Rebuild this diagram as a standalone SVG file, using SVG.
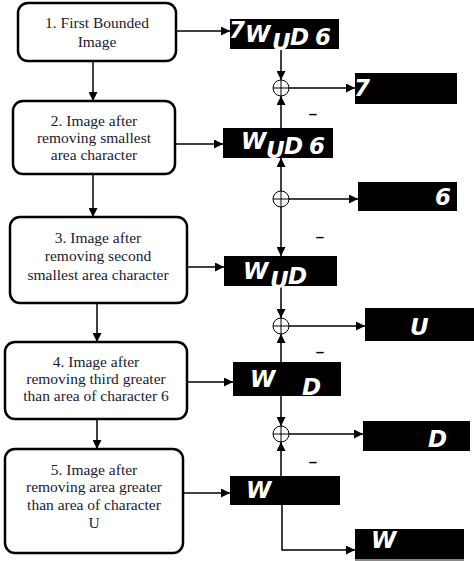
<svg xmlns="http://www.w3.org/2000/svg" width="474" height="561" viewBox="0 0 474 561">
<style>
.box{fill:#fff;stroke:#000;stroke-width:2.5}
.lbl{font-family:"Liberation Serif","Times New Roman",serif;font-size:15.5px;fill:#1a1a30;text-anchor:middle}
.img{fill:#000}
.ch{font-family:"DejaVu Sans",Verdana,sans-serif;font-style:italic;font-weight:bold;font-size:23px;fill:#fff}
.ln{fill:none;stroke:#000;stroke-width:1.5}
.sum{fill:#fff;stroke:#000;stroke-width:1}
.minus{font-family:"Liberation Sans",Arial,sans-serif;font-size:15px;font-weight:bold;fill:#000;text-anchor:middle}
</style>
<defs>
<marker id="ah" viewBox="0 0 10 10" refX="10" refY="5" markerWidth="10" markerHeight="9" markerUnits="userSpaceOnUse" orient="auto">
<path d="M0,0 L10,5 L0,10 z" fill="#000"/>
</marker>
</defs>
<g id="connectors">
<path class="ln" d="M176,31 H230" marker-end="url(#ah)"/>
<path class="ln" d="M93,61 V101" marker-end="url(#ah)"/>
<path class="ln" d="M175,144 H223" marker-end="url(#ah)"/>
<path class="ln" d="M93,174 V217" marker-end="url(#ah)"/>
<path class="ln" d="M187,267 H224" marker-end="url(#ah)"/>
<path class="ln" d="M97,303 V342" marker-end="url(#ah)"/>
<path class="ln" d="M187,382 H233" marker-end="url(#ah)"/>
<path class="ln" d="M97,419 V449" marker-end="url(#ah)"/>
<path class="ln" d="M183,493 H230" marker-end="url(#ah)"/>
<path class="ln" d="M281,49 V80" marker-end="url(#ah)"/>
<path class="ln" d="M281,128 V96" marker-end="url(#ah)"/>
<path class="ln" d="M289,88 H355" marker-end="url(#ah)"/>
<path class="ln" d="M281,191 V158" marker-end="url(#ah)"/>
<path class="ln" d="M281,207 V256" marker-end="url(#ah)"/>
<path class="ln" d="M289,199 H358" marker-end="url(#ah)"/>
<path class="ln" d="M281,286 V318" marker-end="url(#ah)"/>
<path class="ln" d="M281,362 V334" marker-end="url(#ah)"/>
<path class="ln" d="M289,326 H365" marker-end="url(#ah)"/>
<path class="ln" d="M281,396 V426" marker-end="url(#ah)"/>
<path class="ln" d="M281,476 V442" marker-end="url(#ah)"/>
<path class="ln" d="M289,434 H363" marker-end="url(#ah)"/>
<path class="ln" d="M282,505 V550 H355" marker-end="url(#ah)"/>
</g>
<g id="sum1"><circle class="sum" cx="281" cy="88" r="8"/><path class="ln" style="stroke-width:1" d="M273,88 H289 M281,80 V96"/></g>
<g id="sum2"><circle class="sum" cx="281" cy="199" r="8"/><path class="ln" style="stroke-width:1" d="M273,199 H289 M281,191 V207"/></g>
<g id="sum3"><circle class="sum" cx="281" cy="326" r="8"/><path class="ln" style="stroke-width:1" d="M273,326 H289 M281,318 V334"/></g>
<g id="sum4"><circle class="sum" cx="281" cy="434" r="8"/><path class="ln" style="stroke-width:1" d="M273,434 H289 M281,426 V442"/></g>
<g id="minus-signs">
<text class="minus" x="313" y="119">–</text>
<text class="minus" x="320" y="242">–</text>
<text class="minus" x="320" y="357">–</text>
<text class="minus" x="313" y="467">–</text>
</g>
<g id="box1"><rect class="box" x="18" y="3" width="158" height="58" rx="10"/>
<text class="lbl" x="97" y="28">1. First Bounded</text><text class="lbl" x="97" y="47">Image</text></g>
<g id="box2"><rect class="box" x="13" y="101" width="162" height="73" rx="10"/>
<text class="lbl" x="94" y="126">2. Image after</text><text class="lbl" x="94" y="143">removing smallest</text><text class="lbl" x="94" y="160">area character</text></g>
<g id="box3"><rect class="box" x="10" y="217" width="177" height="86" rx="10"/>
<text class="lbl" x="98" y="243">3. Image after</text><text class="lbl" x="98" y="261">removing second</text><text class="lbl" x="98" y="280">smallest area character</text></g>
<g id="box4"><rect class="box" x="5" y="342" width="182" height="77" rx="10"/>
<text class="lbl" x="96" y="367">4. Image after</text><text class="lbl" x="96" y="384">removing third greater</text><text class="lbl" x="96" y="401">than area of character 6</text></g>
<g id="box5"><rect class="box" x="5" y="449" width="178" height="104" rx="10"/>
<text class="lbl" x="94" y="475">5. Image after</text><text class="lbl" x="94" y="492">removing area greater</text><text class="lbl" x="94" y="510">than area of character</text><text class="lbl" x="94" y="528">U</text></g>
<g id="img1"><rect class="img" x="230" y="19" width="109" height="30"/>
<text class="ch"><tspan x="229" y="38">7</tspan><tspan x="245" y="42">W</tspan><tspan x="272" y="50">U</tspan><tspan x="290" y="45">D</tspan><tspan x="315" y="45">6</tspan></text></g>
<g id="img2"><rect class="img" x="223" y="128" width="110" height="30"/>
<text class="ch"><tspan x="241" y="149">W</tspan><tspan x="266" y="158">U</tspan><tspan x="284" y="154">D</tspan><tspan x="309" y="154">6</tspan></text></g>
<g id="img3"><rect class="img" x="224" y="256" width="113" height="30"/>
<text class="ch"><tspan x="243" y="279">W</tspan><tspan x="270" y="288">U</tspan><tspan x="288" y="284">D</tspan></text></g>
<g id="img4"><rect class="img" x="233" y="362" width="108" height="34"/>
<text class="ch"><tspan x="250" y="387">W</tspan><tspan x="302" y="395">D</tspan></text></g>
<g id="img5"><rect class="img" x="230" y="476" width="110" height="29"/>
<text class="ch"><tspan x="246" y="498">W</tspan></text></g>
<g id="out7"><rect class="img" x="355" y="73" width="102" height="31"/>
<text class="ch"><tspan x="354" y="96">7</tspan></text></g>
<g id="out6"><rect class="img" x="358" y="182" width="99" height="29"/>
<text class="ch"><tspan x="435" y="205">6</tspan></text></g>
<g id="outU"><rect class="img" x="365" y="308" width="109" height="33"/>
<text class="ch"><tspan x="410" y="335">U</tspan></text></g>
<g id="outD"><rect class="img" x="363" y="421" width="107" height="30"/>
<text class="ch"><tspan x="428" y="447">D</tspan></text></g>
<g id="outW"><rect class="img" x="355" y="529" width="109" height="30"/>
<rect x="355" y="559" width="109" height="2" fill="#888"/>
<text class="ch"><tspan x="371" y="548">W</tspan></text></g>
</svg>
